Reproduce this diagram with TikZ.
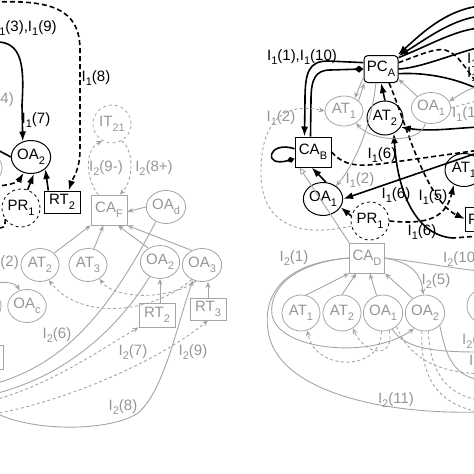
\documentclass[tikz,border=0pt]{standalone}
\usepackage{fontspec}
\setmainfont{Liberation Sans}
\usetikzlibrary{shapes.geometric,arrows.meta}
\definecolor{gc}{RGB}{165,165,165}
\definecolor{gt}{RGB}{150,150,150}
\newcommand{\sbx}[1]{\raisebox{-0.32em}{\fontsize{11}{11}\selectfont #1}}
\begin{document}
\begin{tikzpicture}[x=1pt,y=-1pt, font=\fontsize{15}{16}\selectfont,
 bell/.style={draw, ellipse, line width=1pt, inner sep=0pt, minimum width=38pt, minimum height=33pt},
 gell/.style={bell, draw=gc, text=gt, line width=0.8pt},
 dcirc/.style={draw, circle, dashed, line width=0.8pt, inner sep=0pt, minimum size=38pt},
 gdcirc/.style={dcirc, draw=gc, text=gt},
 bbox/.style={draw, rectangle, line width=1pt, inner sep=0pt, minimum width=36pt, minimum height=24pt},
 gbox/.style={bbox, draw=gc, text=gt, line width=0.8pt},
 bl/.style={line width=1.6pt},
 bdl/.style={line width=1.6pt, dash pattern=on 5pt off 3pt},
 gl/.style={draw=gc, line width=0.9pt},
 gdl/.style={draw=gc, line width=0.9pt, dash pattern=on 3pt off 2.5pt},
 ba/.style={-{Latex[length=10pt,width=7pt]}},
 ga/.style={-{Stealth[length=6pt,width=5pt]}},
 lab/.style={inner sep=0pt},
 glab/.style={inner sep=0pt, text=gt},
]
\useasboundingbox (0,0) rectangle (474,474);
% ---------------- left panel nodes
\node[bell] (LOA2) at (31,157) {OA\sbx{2}};
\node[dcirc] (LPR1) at (21,208) {PR\sbx{1}};
\node[bbox, minimum height=22pt] (LRT2) at (62,202) {RT\sbx{2}};
\node[gdcirc] (IT21) at (112,124) {IT\sbx{21}};
\node[gbox, minimum height=30pt] (CAF) at (109,210) {CA\sbx{F}};
\node[gell] (OAd) at (166,207) {OA\sbx{d}};
\node[gell] (AT2) at (40,265) {AT\sbx{2}};
\node[gell] (AT3) at (88,265) {AT\sbx{3}};
\node[gell] (OA2g) at (160,262) {OA\sbx{2}};
\node[gell] (OA3) at (202,265) {OA\sbx{3}};
\node[gell] (OAc) at (27,306) {OA\sbx{c}};
\node[gbox] (RT2g) at (157,315) {RT\sbx{2}};
\node[gbox, minimum height=22pt] (RT3) at (208,309) {RT\sbx{3}};
\node[gell] (Lx1) at (-17,168) {};
\node[gell] (Lx2) at (-18,306) {};
\node[gbox] (Lx3) at (-15,357) {};
% ---------------- right panel nodes
\node[bbox, rounded corners=4pt, minimum width=34pt, minimum height=27pt] (PCA) at (381,69) {PC\sbx{A}};
\node[gell, minimum height=30pt] (rAT1) at (344,111) {AT\sbx{1}};
\node[bell, minimum width=36pt, minimum height=34pt] (rAT2) at (385,118) {AT\sbx{2}};
\node[gell, minimum height=31pt] (rOA1) at (431,108) {OA\sbx{1}};
\node[bbox, minimum height=30pt] (CAB) at (313,152) {CA\sbx{B}};
\node[bell] (rOA1b) at (323,199) {OA\sbx{1}};
\node[dcirc] (rPR1) at (370,221) {PR\sbx{1}};
\node[bell] (rAT1b) at (464,170) {AT\sbx{1}};
\node[bbox, minimum width=26pt, anchor=west] (Pbox) at (465,219) {PR};
\node[gbox, minimum width=35pt, minimum height=30pt] (CAD) at (367,258) {CA\sbx{D}};
\node[gell, minimum height=36pt] (bAT1) at (301,313) {AT\sbx{1}};
\node[gell, minimum height=36pt] (bAT2) at (342,313) {AT\sbx{2}};
\node[gell, minimum height=36pt] (bOA1) at (383,313) {OA\sbx{1}};
\node[gell, minimum height=36pt] (bOA2) at (425,313) {OA\sbx{2}};
\node[gell, minimum height=36pt] (bX) at (486,306) {};
% ---------------- left black connectors
\draw[bl,ba] (-6,42) .. controls (24,40) and (24,70) .. (22,105) -- (LOA2.118);
\draw[bdl,ba] (-6,2) .. controls (50,0) and (80,8) .. (80,50) -- (80,150) .. controls (80,170) and (72,180) .. (LRT2.60);
\draw[bl] (-6,148) -- (LOA2.west);
\draw[bdl,ba] (-6,186) .. controls (8,186) and (18,182) .. (LOA2.245);
\draw[bl,ba] (LPR1.70) -- (LOA2.280);
\draw[bl,ba] (LRT2.140) -- (LOA2.320);
\draw[bdl] (LPR1.215) .. controls (5,228) .. (-6,228);
% ---------------- left gray connectors
\draw[gdl,ga] (CAF.125) .. controls (86,180) and (84,150) .. (IT21.240);
\draw[gdl,ga] (IT21.300) .. controls (134,150) and (134,180) .. (CAF.55);
\draw[gl,ga] (OAd.180) -- (CAF.355);
\draw[gl,ga] (AT2.40) -- (CAF.220);
\draw[gl,ga] (AT3.70) -- (CAF.250);
\draw[gl,ga] (OA2g.130) -- (CAF.300);
\draw[gl,ga] (OA3.125) -- (CAF.320);
\draw[gl] (-6,384) .. controls (60,365) and (105,320) .. (OAd.235);
\draw[gl] (-6,394) .. controls (70,375) and (120,325) .. (OA2g.235);
\draw[gdl,ga] (OA3.235) .. controls (150,315) and (80,320) .. (AT2.300);
\draw[gdl,ga] (OA3.250) .. controls (170,300) and (115,300) .. (AT3.310);
\draw[gl,ga] (-6,283) .. controls (8,281) and (16,284) .. (OAc.115);
\draw[gl,ga] (OA2g.south |- RT2g.north) -- (OA2g.south);
\draw[gl,ga] (RT3.north) -- (RT3.north |- OA3.south);
\draw[gdl,ga] (-6,400) .. controls (50,385) and (100,350) .. (RT2g.south west);
\draw[gdl,ga] (-6,414) .. controls (70,400) and (160,360) .. (RT3.south);
\draw[gl,ga] (-6,412) .. controls (30,432) and (110,432) .. (138,413) .. controls (165,390) and (178,320) .. (OA3.240);
% ---------------- left labels
\node[lab, anchor=west] at (-5,28) {I\sbx{1}(3),I\sbx{1}(9)};
\node[lab] at (36,120) {I\sbx{1}(7)};
\node[lab] at (96,78) {I\sbx{1}(8)};
\node[glab, anchor=east] at (14,100) {I\sbx{1}(4)};
\node[glab, anchor=east] at (19,263) {I\sbx{2}(2)};
\node[glab] at (106,168) {I\sbx{2}(9-)};
\node[glab] at (154,168) {I\sbx{2}(8+)};
\node[glab] at (57,335) {I\sbx{2}(6)};
\node[glab] at (133,352) {I\sbx{2}(7)};
\node[glab] at (193,352) {I\sbx{2}(9)};
\node[glab] at (123,407) {I\sbx{2}(8)};
% ---------------- right black connectors
\draw[bl,ba] (PCA.160) -- (328,61) .. controls (309,61) and (305,72) .. (305,100) -- ([xshift=10pt]CAB.north west);
\draw[bl,{Diamond[length=9pt,width=7pt]}-] (PCA.west) -- (330,70) .. controls (315,70) and (311,80) .. (311,100) -- ([xshift=16pt]CAB.north west);
\draw[bl,ba] (480,6) .. controls (445,10) and (420,35) .. (PCA.40);
\draw[bl,ba] (480,16) .. controls (450,20) and (425,40) .. (PCA.37);
\draw[bl] (480,28) .. controls (455,30) and (430,45) .. (PCA.33);
\draw[bdl] (PCA.20) .. controls (420,55) and (440,45) .. (450,52) .. controls (462,58) and (468,75) .. (480,85);
\draw[bl] (PCA.east) .. controls (420,68) and (450,55) .. (480,47);
\draw[bl] (PCA.345) .. controls (430,72) and (460,80) .. (480,90);
\draw[bl,ba] (rAT2.north) -- (PCA.south);
\draw[bl,ba] (rOA1b.80) -- (CAB.265);
\draw[bl,-{Diamond[length=8pt,width=6pt]}] (CAB.170) .. controls (268,140) and (262,168) .. (CAB.200);
\draw[bdl] (CAB.east) .. controls (345,167) and (360,166) .. (380,164) -- (480,150);
\draw[bl,ba] (480,152) -- (rOA1b.east);
\draw[bl,ba] (rPR1.165) -- (rOA1b.335);
\draw[bdl,ba] (rPR1.east) .. controls (420,224) and (445,222) .. (rAT1b.235);
\draw[bdl,ba] (PCA.300) .. controls (405,120) and (425,200) .. (Pbox.west);
\draw[bdl] (480,236) -- (453,238);
\draw[bl,ba] (453,238) .. controls (420,236) and (398,200) .. (rAT2.300);
\draw[bl,ba] (480,127) .. controls (455,128) and (430,132) .. (rAT2.330);
% ---------------- right gray connectors (top)
\draw[gl,ga] (PCA.205) -- (rAT1.50);
\draw[gl,ga] (rAT1.35) -- (PCA.220);
\draw[gl,ga] (rOA1.140) -- (PCA.330);
\draw[gl,ga] (PCA.250) .. controls (372,120) and (358,160) .. (rOA1b.45);
\draw[gdl,ga] (rPR1.195) .. controls (300,238) and (262,225) .. (261,175) .. controls (260,120) and (285,102) .. (rAT1.west);
\draw[gl,ga] (rOA1.250) .. controls (420,145) and (372,142) .. (rAT1.315);
\draw[gdl] (rOA1.east) -- (480,100);
\draw[gl,ga] (480,86) .. controls (470,88) and (462,93) .. (rOA1.20);
% ---------------- right gray connectors (bottom)
\draw[gl,-{Triangle[open,length=7pt,width=6pt]}] (CAD.north west) -- ([xshift=5pt]CAB.south west);
\draw[gl,ga] (CAD.west) .. controls (300,262) and (268,285) .. (272,315) .. controls (278,350) and (370,360) .. (bOA2.235);
\draw[gl] (CAD.west) .. controls (290,262) and (262,290) .. (268,330) .. controls (275,390) and (380,415) .. (480,412);
\draw[gl,ga] (bAT1.75) -- (CAD.south west);
\draw[gl,ga] (bAT2.north) -- (CAD.235);
\draw[gl,ga] (bOA1.110) -- (CAD.280);
\draw[gl,ga] (bOA2.130) -- (CAD.south east);
\draw[gl,ga] (CAD.east) .. controls (405,262) and (420,268) .. (bOA2.95);
\draw[gl] (CAD.east) .. controls (420,262) and (450,268) .. (480,271);
\draw[gdl,ga] (bOA1.265) .. controls (382,372) and (315,372) .. (bAT1.290);
\draw[gdl,ga] (bOA1.290) .. controls (395,360) and (365,355) .. (bAT2.305);
\draw[gl] (bOA1.300) .. controls (405,350) and (440,352) .. (480,352);
\draw[gdl] (bOA1.315) .. controls (410,360) and (440,372) .. (480,374);
\draw[gdl] (bOA2.260) .. controls (420,380) and (440,405) .. (480,412);
\draw[gdl] (bOA2.280) .. controls (430,370) and (445,395) .. (480,400);
\draw[gl] (bOA2.320) .. controls (445,350) and (450,375) .. (480,380);
% ---------------- right labels
\node[lab] at (302,57) {I\sbx{1}(1),I\sbx{1}(10)};
\node[lab, anchor=west] at (467,60) {I\sbx{1}(4)};
\node[lab, anchor=west] at (467,74) {I\sbx{1}(3)};
\node[glab] at (281,118) {I\sbx{1}(2)};
\node[glab] at (360,180) {I\sbx{1}(2)};
\node[glab, anchor=west] at (452,114) {I\sbx{1}(11)};
\node[lab] at (382,155) {I\sbx{1}(6)};
\node[lab] at (396,195) {I\sbx{1}(6)};
\node[lab] at (433,197) {I\sbx{1}(5)};
\node[lab] at (422,232) {I\sbx{1}(6)};
\node[glab] at (294,258) {I\sbx{2}(1)};
\node[glab, anchor=west] at (443,259) {I\sbx{2}(10)};
\node[glab] at (436,281) {I\sbx{2}(5)};
\node[glab, anchor=west] at (462,341) {I\sbx{2}(3)};
\node[glab, anchor=west] at (469,362) {I\sbx{2}(4)};
\node[glab] at (396,400) {I\sbx{2}(11)};
\end{tikzpicture}
\end{document}
